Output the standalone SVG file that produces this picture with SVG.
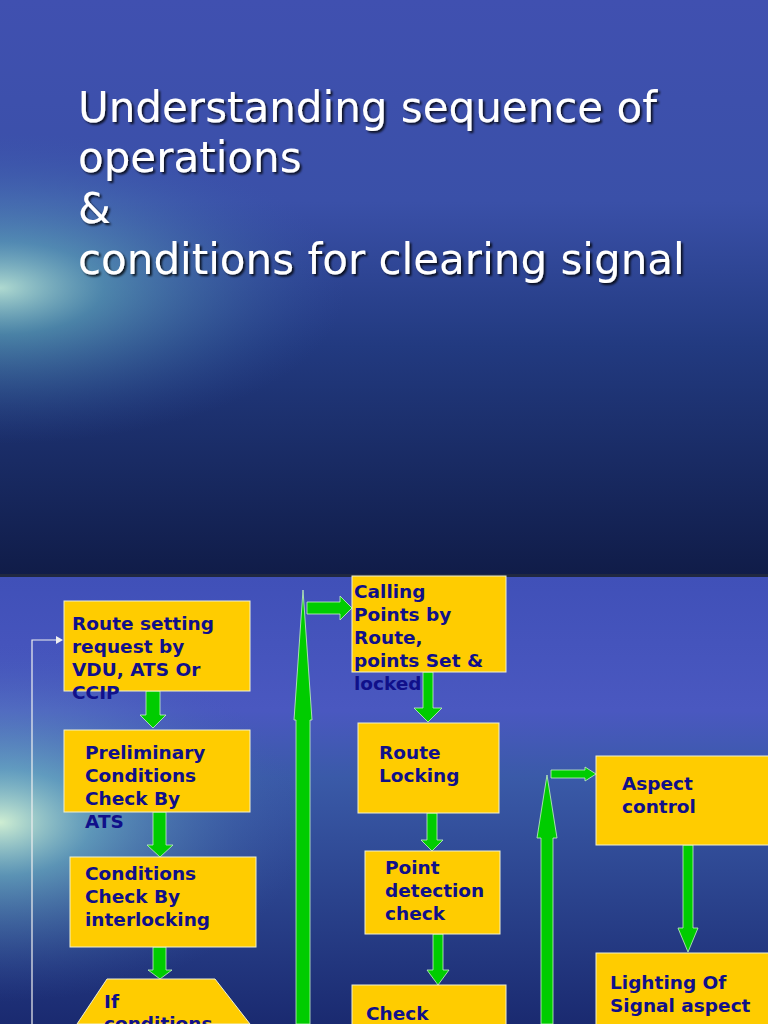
<svg xmlns="http://www.w3.org/2000/svg" width="768" height="1024" viewBox="0 0 768 1024">
<defs>
<linearGradient id="sky" x1="0" y1="0" x2="0" y2="1">
<stop offset="0" stop-color="#4050b0"/><stop offset="0.35" stop-color="#3a50a8"/><stop offset="0.6" stop-color="#223a80"/><stop offset="1" stop-color="#101c48"/>
</linearGradient>
<radialGradient id="glow" cx="0" cy="0.5" r="0.45" gradientTransform="translate(0,0.5) scale(1,0.6) translate(0,-0.5)">
<stop offset="0" stop-color="#d0ffe0" stop-opacity="0.8"/><stop offset="0.3" stop-color="#70c8c8" stop-opacity="0.5"/><stop offset="1" stop-color="#3a60b0" stop-opacity="0"/>
</radialGradient>
<linearGradient id="sky2" x1="0" y1="0" x2="0" y2="1">
<stop offset="0" stop-color="#4050b8"/><stop offset="0.3" stop-color="#4a58c0"/><stop offset="0.45" stop-color="#3a5aa8"/><stop offset="1" stop-color="#1a2a70"/>
</linearGradient>
<radialGradient id="glow2" cx="0" cy="0.55" r="0.4">
<stop offset="0" stop-color="#e0ffd8" stop-opacity="0.9"/><stop offset="0.3" stop-color="#80d0d0" stop-opacity="0.55"/><stop offset="1" stop-color="#4060b0" stop-opacity="0"/>
</radialGradient>
<filter id="sh"><feDropShadow dx="2" dy="2" stdDeviation="1" flood-color="#000" flood-opacity="0.8"/></filter>
</defs>
<style>
.t{font-family:"DejaVu Sans",sans-serif;font-size:42px;fill:#fff}
.box{fill:#ffcc00;stroke:#f0f0d0;stroke-width:1}
.lb{font-family:"DejaVu Sans",sans-serif;font-size:18.5px;font-weight:bold;fill:#10108a}
.ar{fill:#00cc00;stroke:#c8f0c8;stroke-width:0.8}
</style>
<rect width="768" height="576" fill="url(#sky)"/>
<rect width="768" height="576" fill="url(#glow)"/>
<rect y="576" width="768" height="448" fill="url(#sky2)"/>
<rect y="576" width="768" height="448" fill="url(#glow2)"/>
<rect y="574" width="768" height="3" fill="#202840"/>
<g id="title" filter="url(#sh)">
<text class="t" x="78" y="122">Understanding sequence of</text>
<text class="t" x="78" y="172">operations</text>
<text class="t" x="78" y="223">&amp;</text>
<text class="t" x="78" y="274">conditions for clearing signal</text>
</g>
<g id="connectors">
<polyline points="32,1024 32,640 56,640" fill="none" stroke="#f0f0f0" stroke-width="1.2"/>
<polygon points="56,636 63,640 56,644" fill="#f0f0f0"/>
<polygon class="ar" points="146,691 160,691 160,715 166,715 153,728 140,715 146,715"/>
<polygon class="ar" points="153,812 166,812 166,845 173,845 160,857 147,845 153,845"/>
<polygon class="ar" points="153,947 166,947 166,970 172,970 160,979 148,970 153,970"/>
<polygon class="ar" points="296,1024 296,720 294,720 303,590 312,720 310,720 310,1024"/>
<polygon class="ar" points="307,602 340,602 340,596 352,608 340,620 340,614 307,614"/>
<polygon class="ar" points="423,672 433,672 433,708 442,708 428,722 414,708 423,708"/>
<polygon class="ar" points="427,813 437,813 437,840 443,840 432,851 421,840 427,840"/>
<polygon class="ar" points="433,934 443,934 443,970 449,970 438,985 427,970 433,970"/>
<polygon class="ar" points="541,1024 541,838 537,838 547,775 557,838 553,838 553,1024"/>
<polygon class="ar" points="551,770 585,770 585,767 596,774 585,781 585,778 551,778"/>
<polygon class="ar" points="683,845 693,845 693,928 698,928 688,952 678,928 683,928"/>
</g>
<g id="n1"><rect class="box" x="64" y="601" width="186" height="90"/>
<text class="lb" x="72" y="630">Route setting</text><text class="lb" x="72" y="653">request by</text><text class="lb" x="72" y="676">VDU, ATS Or</text><text class="lb" x="72" y="699">CCIP</text></g>
<g id="n2"><rect class="box" x="64" y="730" width="186" height="82"/>
<text class="lb" x="85" y="759">Preliminary</text><text class="lb" x="85" y="782">Conditions</text><text class="lb" x="85" y="805">Check By</text><text class="lb" x="85" y="828">ATS</text></g>
<g id="n3"><rect class="box" x="70" y="857" width="186" height="90"/>
<text class="lb" x="85" y="880">Conditions</text><text class="lb" x="85" y="903">Check By</text><text class="lb" x="85" y="926">interlocking</text></g>
<g id="n4"><polygon class="box" points="107,979 215,979 250,1024 77,1024"/>
<text class="lb" x="104" y="1008">If</text><text class="lb" x="104" y="1030">conditions</text></g>
<g id="n5"><rect class="box" x="352" y="576" width="154" height="96"/>
<text class="lb" x="354" y="598">Calling</text><text class="lb" x="354" y="621">Points by</text><text class="lb" x="354" y="644">Route,</text><text class="lb" x="354" y="667">points Set &amp;</text><text class="lb" x="354" y="690">locked</text></g>
<g id="n6"><rect class="box" x="358" y="723" width="141" height="90"/>
<text class="lb" x="379" y="759">Route</text><text class="lb" x="379" y="782">Locking</text></g>
<g id="n7"><rect class="box" x="365" y="851" width="135" height="83"/>
<text class="lb" x="385" y="874">Point</text><text class="lb" x="385" y="897">detection</text><text class="lb" x="385" y="920">check</text></g>
<g id="n8"><rect class="box" x="352" y="985" width="154" height="45"/>
<text class="lb" x="366" y="1020">Check</text></g>
<g id="n9"><rect class="box" x="596" y="756" width="180" height="89"/>
<text class="lb" x="622" y="790">Aspect</text><text class="lb" x="622" y="813">control</text></g>
<g id="n10"><rect class="box" x="596" y="953" width="180" height="80"/>
<text class="lb" x="610" y="989">Lighting Of</text><text class="lb" x="610" y="1012">Signal aspect</text></g>
</svg>
